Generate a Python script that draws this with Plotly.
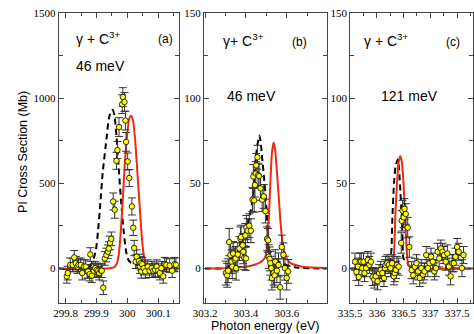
import plotly.graph_objects as go

W, H = 474, 334

# ---------------- Panel (a) ----------------
xa = [299.804, 299.807, 299.815, 299.823, 299.828, 299.833, 299.839, 299.842, 299.849, 299.854,
      299.859, 299.865, 299.870, 299.873, 299.878, 299.880, 299.885, 299.891, 299.896, 299.901,
      299.906, 299.909, 299.915, 299.917, 299.922, 299.927, 299.932, 299.937, 299.940, 299.944,
      299.948,
      299.954, 299.959, 299.9646, 299.9677, 299.9729, 299.9833, 299.9854, 299.9906, 299.9937,
      299.9958, 300.001, 300.006, 300.0146, 300.019, 300.022,
      300.027, 300.030, 300.0375, 300.041, 300.043, 300.045, 300.048, 300.053, 300.058, 300.066,
      300.072, 300.079, 300.084, 300.090, 300.095, 300.100, 300.105, 300.110, 300.116, 300.121,
      300.126, 300.137, 300.145, 300.152, 300.157]
ya = [-46, -27, 21, 21, 65, 31, 11, 21, 21, -27,
      11, 11, -17, -17, -33, 82, -42, -13, 2, -8,
      -13, -27, -13, -13, -113, 59, 79, 98, 117, 150,
      174,
      393, 345, 632, 695, 830, 964, 1006, 977, 868,
      743, 628, 531, 364, 239, 120,
      40, 69, 44, 11, 31, -17, 25, 2, -17, 11,
      -13, 2, -13, -8, 11, -13, -27, 2, -46, 25,
      21, 17, -13, 25, 21]
ea = [40, 40, 40, 40, 40, 40, 40, 40, 40, 40,
      40, 40, 40, 40, 40, 40, 40, 40, 40, 40,
      40, 40, 40, 40, 40, 40, 40, 40, 40, 40,
      40,
      50, 50, 50, 50, 55, 55, 55, 55, 55,
      55, 50, 50, 50, 45, 45,
      40, 40, 40, 40, 40, 40, 40, 40, 40, 40,
      40, 40, 40, 40, 40, 40, 40, 40, 40, 40,
      40, 40, 40, 40, 40]

dash_xa = [299.778, 299.85, 299.88, 299.897, 299.905, 299.9125, 299.92, 299.933, 299.94, 299.948,
           299.952, 299.958, 299.965, 299.972, 299.980, 299.988, 299.996, 300.005, 300.015,
           300.027, 300.045, 300.07, 300.166]
dash_ya = [0, 0, 15, 98, 220, 385, 560, 770, 880, 925,
           931, 900, 770, 590, 385, 220, 98, 45, 30,
           23, 10, 3, 0]
red_xa = [299.778, 299.93, 299.955, 299.965, 299.972, 299.978, 299.985, 299.992, 300.0, 300.006,
          300.0115, 300.018, 300.025, 300.032, 300.04, 300.047, 300.053, 300.06, 300.07, 300.09,
          300.166]
red_ya = [0, 0, 5, 25, 80, 200, 400, 620, 800, 880,
          897, 870, 760, 575, 360, 180, 80, 30, 8, 1,
          0]

# ---------------- Panel (b) ----------------
xb = [303.302, 303.308, 303.313, 303.318, 303.324, 303.329, 303.333, 303.337, 303.345, 303.349,
      303.352, 303.360, 303.368, 303.373, 303.376, 303.384, 303.387, 303.392, 303.397, 303.400,
      303.402, 303.408, 303.416, 303.424, 303.432, 303.436, 303.440, 303.444, 303.448, 303.450,
      303.456, 303.459, 303.464, 303.471, 303.479, 303.487, 303.495, 303.503, 303.508, 303.511,
      303.516, 303.519, 303.524, 303.527, 303.535, 303.540, 303.543, 303.551, 303.559, 303.567,
      303.575, 303.583, 303.590, 303.599, 303.606]
yb = [-2.7, -4, -1.3, 15.5, 7.9, 4, 1.1, 8.8, 5, 5.9,
      0.2, 8.2, 11.7, 17.4, 18.4, 13.6, 9.8, 6.3, 19.4, 5.9,
      24.1, 22.2, 25.1, 22.2, 40.4, 54, 40, 49, 55.7, 60.5,
      65.3, 54.8, 54.2, 47, 40.4, 42.3, 33.7, 17.4, 16.5, 6.9,
      5.6, 3.1, 0.2, -5.6, -2.7, -4, 4, -1.3, 2.1, -11,
      12.6, 8, 0.2, -5.6, -1.7]
eb = [7, 7, 7, 8, 7, 7, 7, 7, 7, 7,
      7, 7, 7, 7, 7, 7, 7, 7, 7, 7,
      7, 7, 7, 7, 7, 7, 7, 7, 7, 7,
      7, 7, 7, 7, 7, 7, 7, 7, 7, 7,
      7, 7, 7, 7, 7, 7, 7, 7, 7, 7,
      7, 7, 7, 7, 7]

dash_xb = [303.2, 303.28, 303.305, 303.337, 303.368, 303.40, 303.42, 303.432, 303.448, 303.458,
           303.466, 303.472, 303.479, 303.487, 303.495, 303.503, 303.511, 303.52, 303.53, 303.56,
           303.6, 303.65, 303.8]
dash_yb = [0, 0, 0.5, 4, 12, 23, 32, 40, 65, 74,
           78, 74, 65, 55, 44, 29, 10, 5, 4, 4,
           2, 0.5, 0]
red_xb = [303.2, 303.35, 303.42, 303.46, 303.48, 303.495, 303.503, 303.511, 303.519, 303.527,
          303.535, 303.543, 303.551, 303.559, 303.567, 303.575, 303.585, 303.595, 303.61, 303.63,
          303.67, 303.72, 303.8]
red_yb = [0, 0.5, 1.5, 3, 4.5, 7, 14, 28, 50, 68,
          74, 69, 57, 44, 30, 19, 11, 7, 4, 2.5,
          1.2, 0.6, 0.3]

# ---------------- Panel (c) ----------------
xc = [335.590, 335.616, 335.646, 335.66, 335.680, 335.707, 335.725, 335.749, 335.768, 335.798,
      335.830, 335.859, 335.889, 335.920, 335.950, 335.980, 336.011, 336.041, 336.071, 336.102,
      336.133, 336.151, 336.162, 336.193, 336.224, 336.254, 336.285, 336.316, 336.334, 336.358,
      336.376, 336.407, 336.455, 336.465, 336.48, 336.50, 336.516, 336.54, 336.577, 336.607,
      336.65, 336.68, 336.71, 336.741, 336.772, 336.801, 336.832, 336.863, 336.892, 336.923,
      336.954, 336.984, 337.015, 337.045, 337.076, 337.106, 337.137, 337.166, 337.197, 337.228,
      337.257, 337.288, 337.319, 337.349, 337.380, 337.411, 337.440, 337.471, 337.502, 337.531,
      337.593, 337.622]
yc = [4, -2, 1.1, -5, 4, 4, 0.2, 4, -2.7, 0.2,
      5, 2.1, 4, -5, -6.5, -4.6, -7.5, -2.7, -0.8, -2.7,
      -5.6, 0.2, 2.1, 3.1, 2.1, 0.2, 3.1, -4.6, -2.7, -0.8,
      2.1, 1.1, 15, 28, 34, 30, 35, 32, 24, 12.6,
      -1, -4, 1, 3.1, -1.7, -5.6, 0.2, -3.6, -1.7, 7.9,
      0.2, 3.1, 6.9, 4, -1.7, 0.2, 9.8, 5.9, 11.7, 9.8,
      7.9, 4, 8.8, 1.1, -4.6, 3.1, 3.1, 6.9, 12.6, 9.8,
      0.2, 7.9]
ec = [5, 5, 5, 5, 5, 5, 5, 5, 5, 5,
      5, 5, 5, 5, 5, 5, 5, 5, 5, 5,
      5, 5, 5, 5, 5, 5, 5, 5, 5, 5,
      5, 5, 6, 6, 6, 6, 6, 6, 6, 6,
      5, 5, 5, 5, 5, 5, 5, 5, 5, 5,
      5, 5, 5, 5, 5, 5, 5, 5, 5, 5,
      5, 5, 5, 5, 5, 5, 5, 5, 5, 5,
      5, 5]

dash_xc = [335.5, 336.1, 336.2, 336.24, 336.27, 336.29, 336.32, 336.35, 336.39, 336.415,
           336.44, 336.46, 336.48, 336.495, 336.52, 336.56, 336.6, 336.7, 337.8]
dash_yc = [0, 0.5, 2, 4, 10, 30, 50, 60, 64, 58,
           45, 33, 18, 6, 5, 4, 1.5, 0.5, 0]
red_xc = [335.5, 336.2, 336.28, 336.315, 336.345, 336.376, 336.405, 336.437, 336.47, 336.498,
          336.527, 336.56, 336.589, 336.65, 337.8]
red_yc = [0, 0, 0.5, 6, 31, 50, 62, 66, 62, 50,
          31, 10, 2, 0.5, 0]

# tick labels
xt_a = [299.8, 299.9, 300.0, 300.1]
xt_a_txt = ["299.8", "299.9", "300", "300.1"]
xt_b = [303.2, 303.4, 303.6]
xt_b_txt = ["303.2", "303.4", "303.6"]
xt_c = [335.5, 336.0, 336.5, 337.0, 337.5]
xt_c_txt = ["335.5", "336", "336.5", "337", "337.5"]
yt_a = [0, 500, 1000, 1500]
yt_bc = [0, 50, 100, 150]

RED = "#ee2a10"
fig = go.Figure()

panels = [
    ("x", "y", xa, ya, ea, dash_xa, dash_ya, red_xa, red_ya),
    ("x2", "y2", xb, yb, eb, dash_xb, dash_yb, red_xb, red_yb),
    ("x3", "y3", xc, yc, ec, dash_xc, dash_yc, red_xc, red_yc),
]
for xr, yr, dx, dy, de, kx, ky, rx, ry in panels:
    fig.add_trace(go.Scatter(x=kx, y=ky, mode="lines", xaxis=xr, yaxis=yr,
                             line=dict(color="black", width=2, dash="6px,4px", shape="spline", smoothing=0.6),
                             showlegend=False, hoverinfo="skip"))
    fig.add_trace(go.Scatter(x=rx, y=ry, mode="lines", xaxis=xr, yaxis=yr,
                             line=dict(color=RED, width=2, shape="spline", smoothing=0.6),
                             showlegend=False, hoverinfo="skip"))
    fig.add_trace(go.Scatter(x=dx, y=dy, mode="markers", xaxis=xr, yaxis=yr,
                             marker=dict(size=5.5, color="#ffff00", line=dict(color="black", width=0.8)),
                             error_y=dict(type="data", array=de, visible=True, color="#333333",
                                          thickness=1, width=4),
                             showlegend=False))

def px(x):
    return x / W

def py(y):
    return 1 - y / H

ydom = [py(302), py(7)]
axis_common = dict(showline=True, linecolor="#444444", linewidth=1, mirror="allticks",
                   ticks="inside", ticklen=5, tickcolor="#444444", showgrid=False, zeroline=False,
                   tickfont=dict(family="Liberation Serif", size=11, color="black"))

xdoms = [[px(48), px(171)], [px(197), px(323)], [px(347), px(473)]]
xranges = [[299.778, 300.166], [303.195, 303.795], [335.5, 337.8]]
xticks = [(xt_a, xt_a_txt, 0.05), (xt_b, xt_b_txt, 0.1), (xt_c, xt_c_txt, 0.25)]
for i in range(3):
    name = "xaxis" if i == 0 else f"xaxis{i+1}"
    yname = "y" if i == 0 else f"y{i+1}"
    tv, tt, mdt = xticks[i]
    fig.layout[name] = dict(domain=xdoms[i], range=xranges[i], anchor=yname,
                            tickvals=tv, ticktext=tt,
                            minor=dict(dtick=mdt, tick0=tv[0], ticks="inside", ticklen=3,
                                       tickcolor="#444444"),
                            **axis_common)
yranges = [[-200, 1500], [-20, 150], [-20, 150]]
for i in range(3):
    name = "yaxis" if i == 0 else f"yaxis{i+1}"
    xname = "x" if i == 0 else f"x{i+1}"
    tv = yt_a if i == 0 else yt_bc
    mdt = 250 if i == 0 else 25
    fig.layout[name] = dict(domain=ydom, range=yranges[i], anchor=xname,
                            tickvals=tv, ticktext=[str(v) for v in tv],
                            minor=dict(dtick=mdt, tick0=0, ticks="inside", ticklen=4,
                                       tickcolor="#444444"),
                            **axis_common)

ann_font = dict(family="Liberation Sans", size=14, color="black")
lab_font = dict(family="Liberation Sans", size=12, color="black")
annotations = [
    dict(x=px(64), y=py(33), text="γ + C<sup>3+</sup>", xanchor="left", font=ann_font),
    dict(x=px(157), y=py(34), text="(a)", xanchor="center", font=lab_font),
    dict(x=px(64), y=py(61), text="46 meV", xanchor="left", font=ann_font),
    dict(x=px(214), y=py(35), text="γ+ C<sup>3+</sup>", xanchor="left", font=ann_font),
    dict(x=px(295), y=py(37), text="(b)", xanchor="center", font=lab_font),
    dict(x=px(219), y=py(92), text="46 meV", xanchor="left", font=ann_font),
    dict(x=px(359), y=py(35), text="γ + C<sup>3+</sup>", xanchor="left", font=ann_font),
    dict(x=px(452), y=py(37), text="(c)", xanchor="center", font=lab_font),
    dict(x=px(377), y=py(92), text="121 meV", xanchor="left", font=ann_font),
    dict(x=px(260), y=py(326), text="Photon energy (eV)", xanchor="center", font=dict(family="Liberation Sans", size=12.5, color="black")),
    dict(x=px(12), y=py(149), text="PI Cross Section (Mb)", textangle=-90, xanchor="center",
         font=dict(family="Liberation Sans", size=12.5, color="black")),
]
for a in annotations:
    a.update(xref="paper", yref="paper", showarrow=False, yanchor="middle")
fig.update_layout(annotations=annotations, width=W, height=H,
                  margin=dict(l=0, r=0, t=0, b=0),
                  paper_bgcolor="white", plot_bgcolor="white")

fig.write_html("out.html")
